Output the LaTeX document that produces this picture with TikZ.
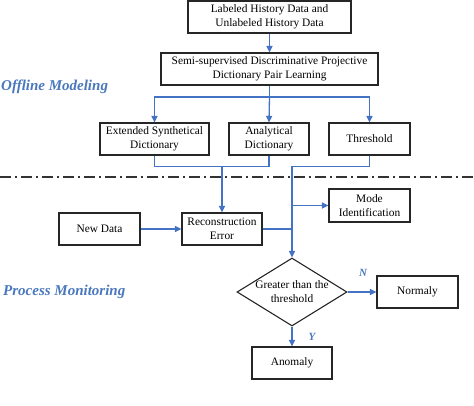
\documentclass[tikz,border=0pt]{standalone}
\usepackage{fontspec}
\setmainfont{Liberation Serif}
\usetikzlibrary{arrows.meta,shapes.geometric}
\definecolor{lineblue}{HTML}{4472C4}
\definecolor{textblue}{HTML}{4A78BE}
\tikzset{
  box/.style={draw=black!85, line width=1.1pt, rectangle, align=center, inner sep=1pt,
    font=\fontsize{11.4}{14}\selectfont, minimum height=32pt},
  conn/.style={draw=lineblue, line width=1.3pt},
  arr/.style={conn, -{Triangle[length=6.5pt,width=6pt]}},
  phase/.style={text=textblue, font=\fontsize{15}{18}\selectfont\bfseries\itshape, anchor=west, inner sep=0pt},
  yn/.style={text=textblue, font=\fontsize{11}{13}\selectfont\bfseries\itshape, inner sep=0pt}
}
\begin{document}
\begin{tikzpicture}[x=1pt,y=-1pt]
\useasboundingbox (0,0) rectangle (474,405);
\node[box, minimum width=163pt] (top) at (269.5,17) {Labeled History Data and\\Unlabeled History Data};
\node[box, minimum width=217pt] (spl) at (269.5,69) {Semi-supervised Discriminative Projective\\Dictionary Pair Learning};
\node[box, minimum width=109pt] (esd) at (154.5,139) {Extended Synthetical\\Dictionary};
\node[box, minimum width=80pt] (ad) at (269,139) {Analytical\\Dictionary};
\node[box, minimum width=81pt] (thr) at (369.5,139) {Threshold};
\node[box, minimum width=81pt, minimum height=33pt] (mode) at (369.5,205.5) {Mode\\Identification};
\node[box, minimum width=81pt] (nd) at (99.5,229) {New Data};
\node[box, minimum width=80pt] (rec) at (222,229) {Reconstruction\\Error};
\node[draw=black!85, line width=1.1pt, diamond, aspect=1.62, minimum width=110pt, minimum height=68pt, inner sep=0pt, align=center,
  font=\fontsize{11.4}{14}\selectfont] (dia) at (292,292) {Greater than the\\threshold};
\node[box, minimum width=81pt] (norm) at (417.5,292) {Normaly};
\node[box, minimum width=80pt] (anom) at (292,363) {Anomaly};

\node[phase] (off) at (1,87) {Offline Modeling};
\node[phase] (pm) at (3,292) {Process Monitoring};
\node[yn] (n) at (363,273) {N};
\node[yn] (y) at (312,337) {Y};

\coordinate (dl) at (0,177);
\coordinate (dr) at (474,177);
\draw[black!80, line width=1.5pt, dash pattern=on 11pt off 4pt on 2pt off 4pt] (dl) -- (dr);

\draw[arr] (top) -- (spl);
\coordinate (br) at (269.5,97);
\draw[conn] (spl.south) -- (br);
\draw[arr] (br) -| (esd.north);
\draw[arr] (br) -- (ad.north);
\draw[arr] (br) -| (thr.north);

\coordinate (m1) at (222,166);
\draw[conn] (esd.south) -- ++(0,11) -| (ad.south);
\draw[arr] (m1) -- (rec.north);
\draw[arr] (thr.south) -- ++(0,11) -| (dia.north);
\coordinate (m2) at (292,205.5);
\draw[arr] (m2) -- (mode.west);
\draw[arr] (nd) -- (rec);
\coordinate (m3) at (292,229);
\draw[conn] (rec.east) -- (m3);
\draw[arr] (dia.east) -- (norm.west);
\draw[arr] (dia.south) -- (anom.north);
\end{tikzpicture}
\end{document}
